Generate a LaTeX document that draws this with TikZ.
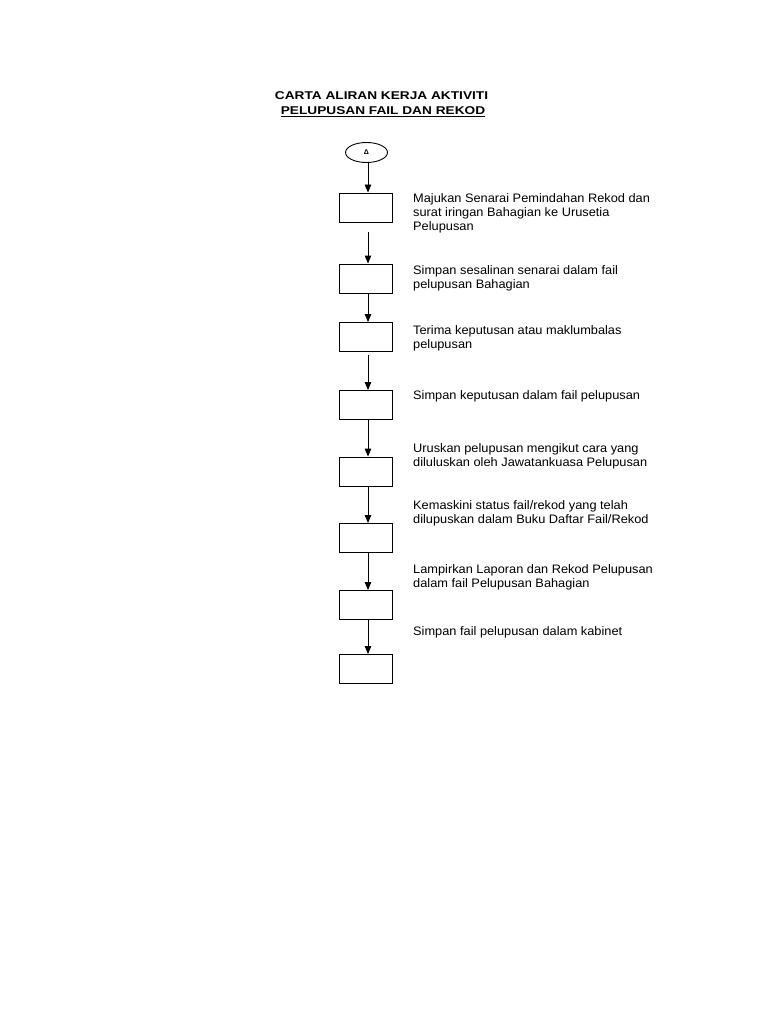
\documentclass[tikz,border=0pt]{standalone}
\usepackage{fontspec}
\setmainfont{Liberation Sans}
\usetikzlibrary{arrows.meta,shapes.geometric}
\begin{document}
\begin{tikzpicture}[x=1pt,y=-1pt,
  stepbox/.style={draw,line width=0.9pt,minimum width=53pt,minimum height=29pt,inner sep=0pt},
  desc/.style={anchor=base west,align=left,inner sep=0pt,font=\fontsize{12.3}{14}\selectfont\addfontfeature{FakeStretch=1.04}},
  flow/.style={draw,line width=0.9pt,-{Triangle[length=8pt,width=6.5pt]}},
  ttl/.style={inner sep=0pt,anchor=base,font=\fontsize{11.3}{15}\selectfont\bfseries\addfontfeature{FakeStretch=1.21}}]
\useasboundingbox (0,0) rectangle (768,1024);
\fill[white] (0,0) rectangle (768,1024);
\node[ttl] (t1) at (381.5,99.3) {CARTA ALIRAN KERJA AKTIVITI};
\node[ttl] (t2) at (383,114.3) {\underline{PELUPUSAN FAIL DAN REKOD}};
\node[draw,ellipse,line width=0.9pt,minimum width=42pt,minimum height=20pt,inner sep=0pt,font=\fontsize{7}{8}\selectfont\bfseries] (s) at (366.5,152.5) {Δ};
\node[stepbox] (b1) at (365.5,207.5) {};
\node[stepbox] (b2) at (365.5,278.5) {};
\node[stepbox] (b3) at (365.5,337) {};
\node[stepbox] (b4) at (365.5,405) {};
\node[stepbox] (b5) at (365.5,471.5) {};
\node[stepbox] (b6) at (365.5,538) {};
\node[stepbox] (b7) at (365.5,605) {};
\node[stepbox] (b8) at (365.5,669) {};
\coordinate (a1s) at (368,162.5);
\coordinate (a2s) at (368,232);
\coordinate (a4s) at (368,355);
\draw[flow] (a1s) -- (a1s |- b1.north);
\draw[flow] (a2s) -- (a2s |- b2.north);
\draw[flow] (b2.south -| a2s) -- (a2s |- b3.north);
\draw[flow] (a4s) -- (a4s |- b4.north);
\draw[flow] (b4.south -| a2s) -- (a2s |- b5.north);
\draw[flow] (b5.south -| a2s) -- (a2s |- b6.north);
\draw[flow] (b6.south -| a2s) -- (a2s |- b7.north);
\draw[flow] (b7.south -| a2s) -- (a2s |- b8.north);
\node[desc] (d1) at (413,230) {Majukan Senarai Pemindahan Rekod dan\\surat iringan Bahagian ke Urusetia\\Pelupusan};
\node[desc] (d2) at (413,288) {Simpan sesalinan senarai dalam fail\\pelupusan Bahagian};
\node[desc] (d3) at (413,348) {Terima keputusan atau maklumbalas\\pelupusan};
\node[desc] (d4) at (413,399) {Simpan keputusan dalam fail pelupusan};
\node[desc] (d5) at (413,466.5) {Uruskan pelupusan mengikut cara yang\\diluluskan oleh Jawatankuasa Pelupusan};
\node[desc] (d6) at (413,523) {Kemaskini status fail/rekod yang telah\\dilupuskan dalam Buku Daftar Fail/Rekod};
\node[desc] (d7) at (413,587) {Lampirkan Laporan dan Rekod Pelupusan\\dalam fail Pelupusan Bahagian};
\node[desc] (d8) at (413,635) {Simpan fail pelupusan dalam kabinet};
\end{tikzpicture}
\end{document}
